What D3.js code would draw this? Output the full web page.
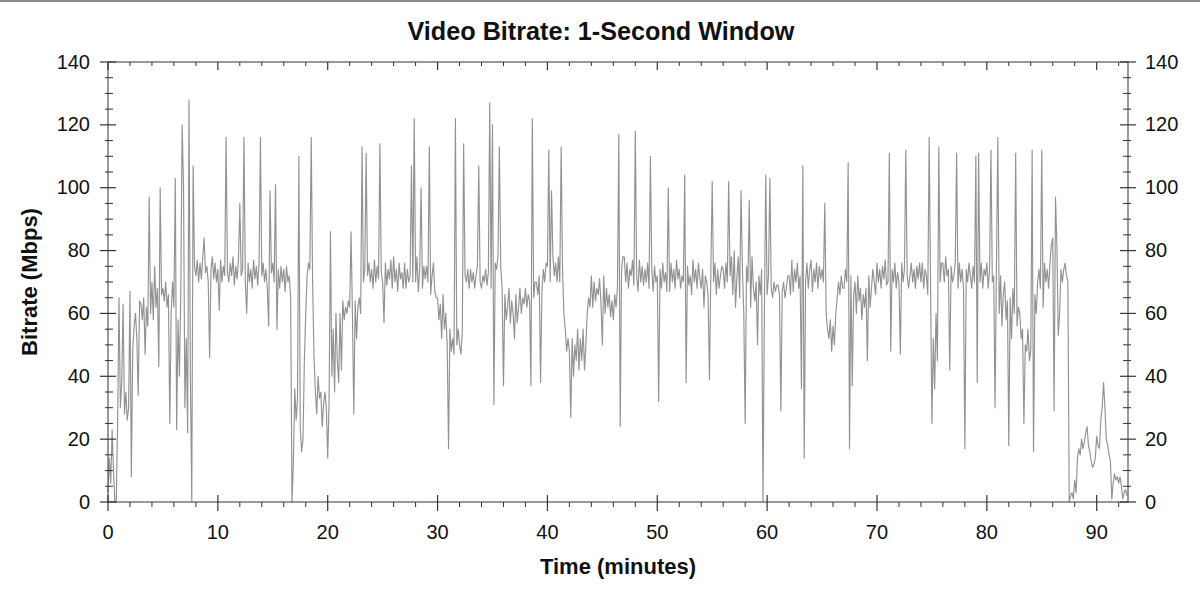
<!DOCTYPE html>
<html>
<head>
<meta charset="utf-8">
<script src="https://cdn.jsdelivr.net/npm/d3@7"></script>
<style>
  body { margin: 0; background: #fff; }
  text { font-family: "Liberation Sans", Arial, sans-serif; fill: #111; }
</style>
</head>
<body>
<div id="chart"></div>
<script>
// Bitrate samples (Mbps), eight per minute (one row = one minute)
const sampleStep = 0.125;
const bitrate = [
  3, 14, 6, 23, 10, 0, 0, 25,
  65, 30, 38, 63, 28, 35, 26, 30,
  67, 8, 48, 56, 60, 52, 34, 64,
  63, 58, 65, 47, 62, 56, 97, 60,
  70, 58, 75, 62, 68, 43, 100, 66,
  68, 64, 70, 62, 66, 25, 60, 70,
  62, 103, 23, 58, 40, 66, 120, 100,
  30, 52, 22, 128, 40, 0, 107, 75,
  72, 77, 70, 76, 71, 78, 84, 73,
  75, 70, 46, 74, 78, 71, 76, 70,
  74, 61, 77, 70, 75, 72, 116, 73,
  70, 76, 72, 78, 69, 75, 71, 77,
  95, 72, 74, 116, 70, 60, 76, 70,
  74, 68, 77, 71, 75, 69, 76, 116,
  72, 76, 70, 74, 68, 56, 99, 73,
  76, 70, 101, 55, 74, 68, 75, 70,
  74, 67, 75, 70, 72, 65, 0, 13,
  36, 26, 33, 110, 24, 16, 20, 45,
  60, 72, 76, 74, 116, 70, 47, 35,
  28, 40, 33, 35, 24, 31, 35, 30,
  14, 32, 86, 40, 55, 35, 60, 45,
  38, 60, 42, 64, 58, 62, 60, 64,
  62, 86, 60, 28, 64, 52, 62, 65,
  60, 113, 70, 74, 111, 72, 76, 70,
  74, 68, 77, 70, 75, 71, 114, 73,
  70, 57, 76, 69, 74, 71, 77, 68,
  78, 70, 74, 67, 76, 71, 73, 68,
  76, 68, 74, 70, 72, 107, 70, 122,
  70, 78, 67, 74, 100, 68, 75, 71,
  75, 70, 113, 66, 72, 76, 67, 65,
  65, 58, 63, 52, 66, 55, 60, 50,
  17, 55, 48, 52, 47, 122, 50, 55,
  50, 47, 54, 114, 72, 70, 74, 68,
  74, 70, 73, 68, 72, 75, 107, 70,
  68, 72, 70, 74, 69, 73, 127, 68,
  120, 31, 76, 74, 78, 113, 75, 68,
  37, 66, 58, 62, 68, 57, 64, 60,
  52, 66, 57, 62, 68, 60, 65, 63,
  68, 62, 66, 64, 37, 122, 65, 70,
  70, 66, 72, 38, 67, 74, 70, 76,
  75, 112, 70, 99, 78, 72, 76, 70,
  78, 70, 113, 74, 60, 55, 48, 52,
  48, 27, 52, 40, 50, 45, 55, 42,
  52, 45, 55, 42, 50, 60, 65, 62,
  72, 62, 70, 64, 68, 66, 71, 63,
  50, 72, 60, 68, 62, 66, 59, 64,
  58, 66, 62, 68, 117, 24, 74, 78,
  78, 70, 76, 68, 74, 72, 77, 69,
  118, 72, 67, 77, 70, 75, 69, 74,
  70, 76, 68, 110, 74, 67, 75, 70,
  72, 32, 74, 68, 76, 70, 73, 67,
  100, 67, 76, 70, 74, 68, 77, 71,
  74, 68, 72, 70, 104, 38, 75, 69,
  72, 66, 77, 70, 74, 68, 76, 71,
  68, 74, 62, 72, 70, 66, 39, 73,
  102, 70, 76, 66, 74, 68, 72, 75,
  74, 68, 76, 70, 102, 72, 78, 66,
  80, 62, 72, 78, 65, 99, 74, 60,
  25, 75, 70, 96, 62, 78, 68, 64,
  70, 50, 72, 66, 74, 0, 60, 104,
  66, 72, 103, 68, 65, 70, 67, 69,
  69, 66, 29, 67, 70, 65, 68, 72,
  72, 66, 77, 67, 74, 70, 76, 68,
  72, 36, 107, 14, 70, 76, 68, 74,
  77, 67, 74, 70, 76, 68, 75, 71,
  74, 70, 95, 60, 55, 52, 58, 48,
  56, 50, 60, 65, 70, 66, 72, 68,
  68, 74, 70, 108, 17, 72, 37, 66,
  70, 60, 72, 64, 68, 58, 66, 62,
  68, 45, 72, 62, 68, 74, 70, 66,
  76, 70, 74, 68, 75, 71, 77, 69,
  70, 111, 48, 74, 70, 76, 68, 73,
  70, 47, 76, 70, 74, 112, 72, 68,
  72, 76, 70, 74, 68, 75, 71, 76,
  70, 76, 68, 74, 72, 66, 116, 70,
  25, 52, 36, 60, 45, 113, 70, 76,
  76, 70, 78, 72, 74, 42, 75, 70,
  72, 76, 111, 68, 76, 70, 74, 68,
  17, 74, 70, 76, 72, 68, 75, 70,
  110, 38, 111, 70, 76, 68, 74, 72,
  76, 68, 74, 112, 70, 72, 30, 75,
  116, 60, 72, 56, 66, 70, 58, 64,
  18, 65, 52, 68, 60, 111, 56, 62,
  60, 52, 55, 25, 50, 48, 55, 45,
  48, 112, 16, 66, 60, 70, 74, 68,
  112, 62, 76, 70, 74, 68, 76, 82,
  84, 29, 97, 82, 53, 60, 74, 70,
  74, 76, 72, 70, 0, 2, 3, 1,
  7, 3, 14, 17, 15, 20, 17, 19,
  22, 24, 18, 16, 13, 11, 12, 14,
  21, 18, 17, 26, 30, 38, 30, 20,
  18, 15, 13, 1, 6, 9, 7, 8,
  6, 8, 5, 1, 3, 4, 2
];

const xTickValues = [0, 10, 20, 30, 40, 50, 60, 70, 80, 90];
const yTickValues = [0, 20, 40, 60, 80, 100, 120, 140];
const xMinorStep = 2;
const yMinorStep = 5;
const xMax = 92.85;
const yMax = 140;

const config = {
  width: 1200,
  height: 593,
  margin: {top: 62, right: 72, bottom: 91, left: 108}
};
const innerW = config.width - config.margin.left - config.margin.right;
const innerH = config.height - config.margin.top - config.margin.bottom;

const svg = d3.select('#chart').append('svg')
  .attr('width', config.width)
  .attr('height', config.height);

// thin grey rule along the top edge of the image
svg.append('line')
  .attr('x1', 0).attr('x2', config.width)
  .attr('y1', 1).attr('y2', 1)
  .attr('stroke', '#8c8c8c')
  .attr('stroke-width', 2);

const g = svg.append('g')
  .attr('transform', `translate(${config.margin.left},${config.margin.top})`);

const xScale = d3.scaleLinear().domain([0, xMax]).range([0, innerW]);
const yScale = d3.scaleLinear().domain([0, yMax]).range([innerH, 0]);

// data line - semi transparent so isolated spikes look lighter than the dense core
const line = d3.line()
  .x((d, i) => xScale(i * sampleStep))
  .y(d => yScale(d));

g.append('path')
  .datum(bitrate)
  .attr('fill', 'none')
  .attr('stroke', '#4a4a4a')
  .attr('stroke-opacity', 0.6)
  .attr('stroke-width', 1.15)
  .attr('stroke-linejoin', 'round')
  .attr('d', line);

// frame
g.append('rect')
  .attr('width', innerW)
  .attr('height', innerH)
  .attr('fill', 'none')
  .attr('stroke', '#555')
  .attr('stroke-width', 1.2);

const tickColor = '#333';
const xMinor = d3.range(0, xMax, xMinorStep).filter(v => v % 10 !== 0);
const yMinor = d3.range(0, yMax, yMinorStep).filter(v => v % 20 !== 0);

// y ticks, left and right (major ones cross the frame)
const yAxisTicks = (x0, sign) => {
  g.selectAll(null).data(yTickValues).join('line')
    .attr('x1', x0 - 8 * sign).attr('x2', x0 + 8 * sign)
    .attr('y1', d => yScale(d)).attr('y2', d => yScale(d))
    .attr('stroke', tickColor).attr('stroke-width', 1.2);
  g.selectAll(null).data(yMinor).join('line')
    .attr('x1', x0 - 3 * sign).attr('x2', x0 + 5 * sign)
    .attr('y1', d => yScale(d)).attr('y2', d => yScale(d))
    .attr('stroke', tickColor).attr('stroke-width', 1);
};
yAxisTicks(0, 1);
yAxisTicks(innerW, -1);

// x ticks: bottom crossing, top inward
g.selectAll(null).data(xTickValues).join('line')
  .attr('x1', d => xScale(d)).attr('x2', d => xScale(d))
  .attr('y1', innerH - 7).attr('y2', innerH + 9)
  .attr('stroke', tickColor).attr('stroke-width', 1.2);
g.selectAll(null).data(xMinor).join('line')
  .attr('x1', d => xScale(d)).attr('x2', d => xScale(d))
  .attr('y1', innerH).attr('y2', innerH + 5)
  .attr('stroke', tickColor).attr('stroke-width', 1);
g.selectAll(null).data(xTickValues).join('line')
  .attr('x1', d => xScale(d)).attr('x2', d => xScale(d))
  .attr('y1', 0).attr('y2', 8)
  .attr('stroke', tickColor).attr('stroke-width', 1.2);
g.selectAll(null).data(xMinor).join('line')
  .attr('x1', d => xScale(d)).attr('x2', d => xScale(d))
  .attr('y1', 0).attr('y2', 4)
  .attr('stroke', tickColor).attr('stroke-width', 1);

// tick labels
g.selectAll(null).data(yTickValues).join('text')
  .attr('x', -18).attr('y', d => yScale(d))
  .attr('dy', '0.33em')
  .attr('text-anchor', 'end')
  .attr('font-size', 20)
  .text(d => d);
g.selectAll(null).data(yTickValues).join('text')
  .attr('x', innerW + 17).attr('y', d => yScale(d))
  .attr('dy', '0.33em')
  .attr('text-anchor', 'start')
  .attr('font-size', 20)
  .text(d => d);
g.selectAll(null).data(xTickValues).join('text')
  .attr('x', d => xScale(d)).attr('y', innerH + 37)
  .attr('text-anchor', 'middle')
  .attr('font-size', 20)
  .text(d => d);

// titles
svg.append('text')
  .attr('x', 601).attr('y', 40)
  .attr('text-anchor', 'middle')
  .attr('font-size', 25.2)
  .attr('font-weight', 'bold')
  .text('Video Bitrate: 1-Second Window');

svg.append('text')
  .attr('x', config.margin.left + innerW / 2).attr('y', 574)
  .attr('text-anchor', 'middle')
  .attr('font-size', 22)
  .attr('font-weight', 'bold')
  .text('Time (minutes)');

svg.append('text')
  .attr('transform', `translate(37,${config.margin.top + innerH / 2}) rotate(-90)`)
  .attr('text-anchor', 'middle')
  .attr('font-size', 22)
  .attr('font-weight', 'bold')
  .text('Bitrate (Mbps)');
</script>
</body>
</html>
